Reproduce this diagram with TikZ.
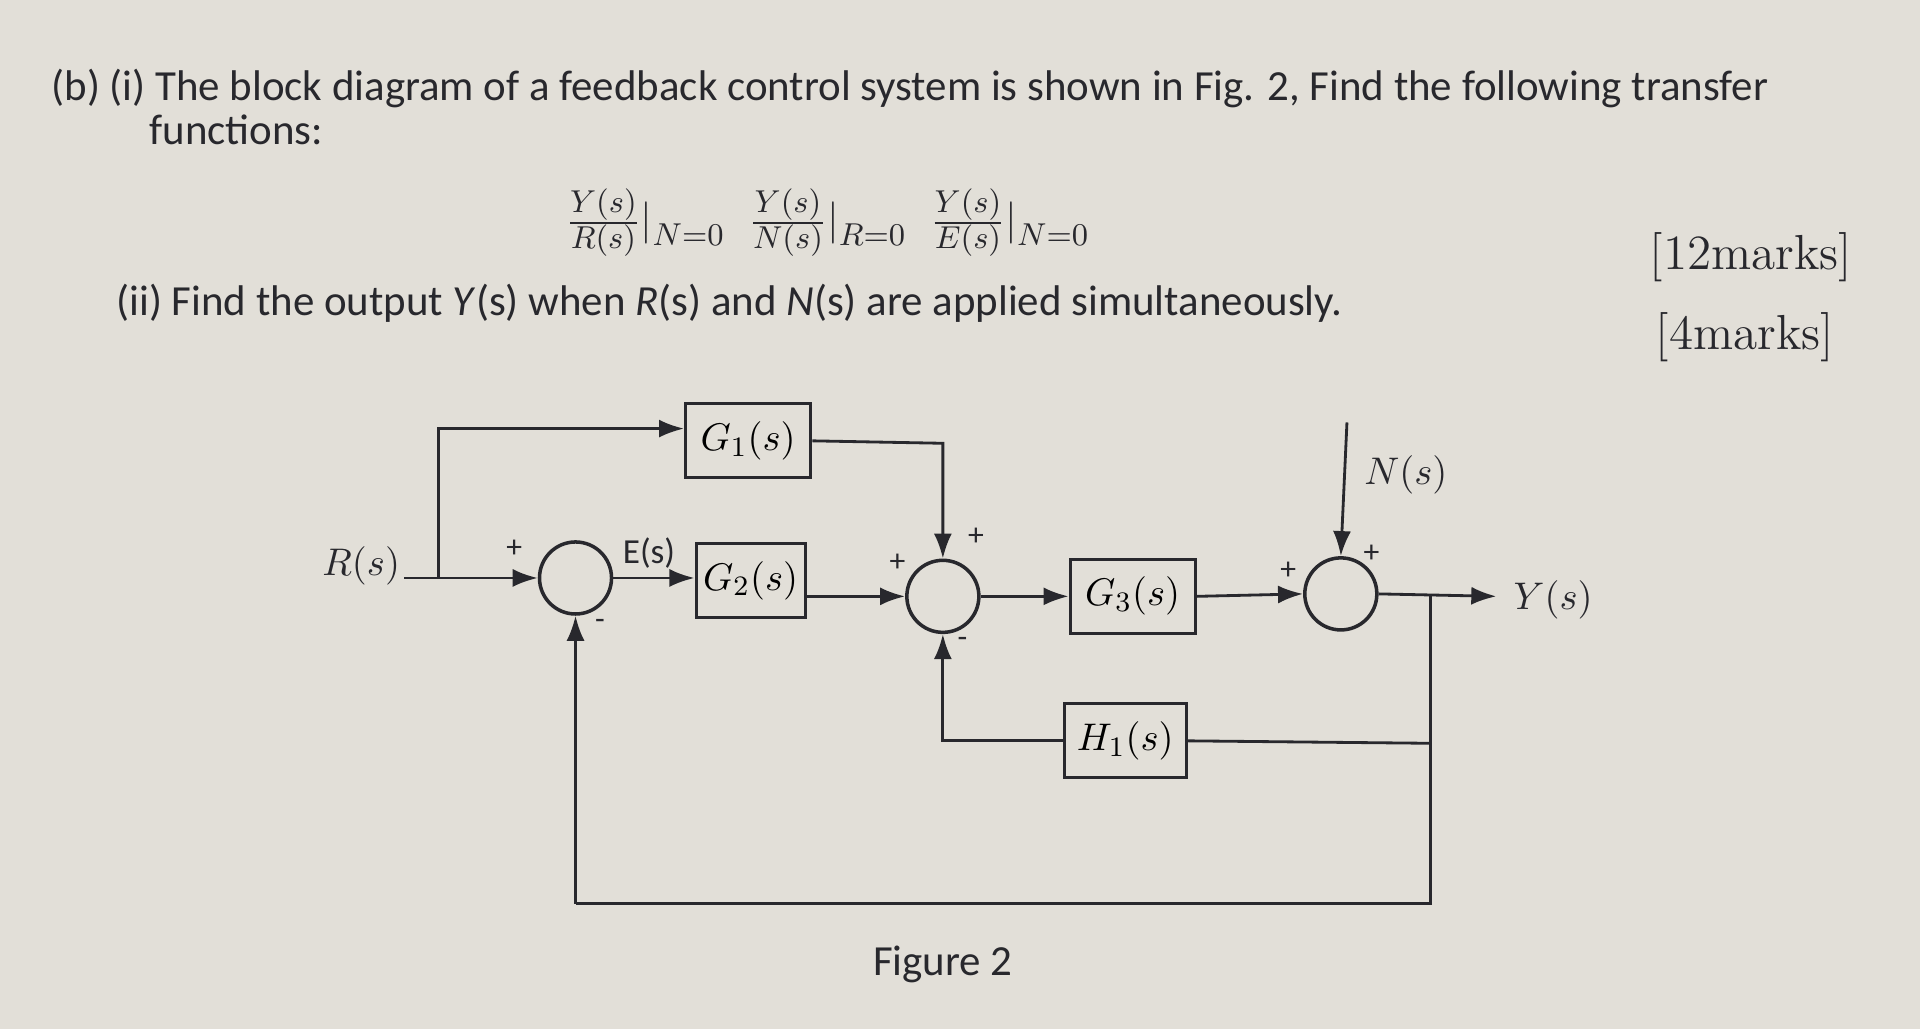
\documentclass[tikz,border=0pt]{standalone}
\usepackage{fontspec}
\setmainfont{Carlito}
\usetikzlibrary{arrows.meta}
\definecolor{paper}{RGB}{226,223,216}
\definecolor{ink}{RGB}{40,40,45}
\begin{document}
\begin{tikzpicture}[x=0.012245cm,y=-0.012245cm,
  blk/.style={draw=ink,line width=0.9pt,minimum width=#1,minimum height=0.74cm,inner sep=0pt,font=\fontsize{11}{13}\selectfont},
  sum/.style={draw=ink,circle,line width=1pt,minimum size=0.72cm,inner sep=0pt},
  ln/.style={draw=ink,line width=0.8pt},
  ar/.style={ln,-{Latex[length=2.5mm,width=1.8mm]}},
  sg/.style={font=\fontsize{9}{10}\selectfont,text=ink},
  txt/.style={font=\fontsize{12.2}{14}\selectfont,text=ink,anchor=west},
  lab/.style={font=\fontsize{11}{13}\selectfont,text=ink},
  mk/.style={font=\fontfamily{lmr}\fontsize{14}{16}\selectfont,text=ink}]
\fill[paper] (0,0) rectangle (1568,840);
\useasboundingbox (0,0) rectangle (1568,840);
% texts
\node[txt] (t1) at (32,72) {(b) (i) The block diagram of a feedback control system is shown in Fig. 2, Find the following transfer};
\node[txt] (t2) at (112,106) {functions:};
\node[mk,anchor=west,font=\fontfamily{lmr}\fontsize{13}{16}\selectfont] (fr) at (452,182) {$\frac{Y(s)}{R(s)}\big|_{N=0}\;\;\frac{Y(s)}{N(s)}\big|_{R=0}\;\;\frac{Y(s)}{E(s)}\big|_{N=0}$};
\node[mk] (m12) at (1430,210) {[12marks]};
\node[txt] (t3) at (85,248) {(ii) Find the output \textit{Y}(s) when \textit{R}(s) and \textit{N}(s) are applied simultaneously.};
\node[mk] (m4) at (1425,275) {[4marks]};
\node[txt,anchor=center] (fig) at (770,788) {Figure 2};
% blocks
\node[blk=1.25cm] (G1) at (611,360) {$G_1(s)$};
\node[blk=1.09cm] (G2) at (613,474) {$G_2(s)$};
\node[blk=1.25cm] (G3) at (925,487) {$G_3(s)$};
\node[blk=1.22cm] (H1) at (919,605) {$H_1(s)$};
\node[sum] (S1) at (470,472) {};
\node[sum] (S2) at (770,487) {};
\node[sum] (S3) at (1095,485) {};
% labels
\node[lab] (R) at (295,462) {$R(s)$};
\node[lab,anchor=west] (Y) at (1226,490) {$Y(s)$};
\node[lab,anchor=west] (N) at (1104,388) {$N(s)$};
\node[font=\fontsize{10}{12}\selectfont,text=ink] (E) at (530,452) {E(s)};
\coordinate (Rr) at (330,472);
\coordinate (Nt) at (1100,345);
\coordinate (b1) at (358,472);
\coordinate (b1u) at (358,350);
\coordinate (g1c) at (770,362);
\coordinate (yo) at (1168,487);
\coordinate (yb) at (1168,738);
\coordinate (s1b) at (470,738);
\coordinate (yh) at (1168,607);
\coordinate (hl) at (770,605);
\coordinate (yend) at (1222,487);
% connectors
\draw[ln] (Rr) -- (b1);
\draw[ar] (b1) -- (S1.west);
\draw[ar] (b1) -- (b1u) -- (G1.west |- b1u);
\draw[ar] (G1.east) -- (g1c) -- (S2.north);
\draw[ar] (S1.east) -- (G2.west |- S1.east);
\draw[ar] (G2.east |- S2.west) -- (S2.west);
\draw[ar] (S2.east) -- (G3.west);
\draw[ar] (G3.east) -- (S3.west);
\draw[ar] (S3.east) -- (yend);
\draw[ar] (Nt) -- (S3.north);
\draw[ln] (yo) -- (yb) -- (s1b);
\draw[ar] (s1b) -- (S1.south);
\draw[ln] (yh) -- (H1.east);
\draw[ar] (H1.west) -- (hl) -- (S2.south);
% signs
\node[sg] at (420,448) {+};
\node[sg] at (490,510) {-};
\node[sg] at (733,460) {+};
\node[sg] at (797,438) {+};
\node[sg] at (786,525) {-};
\node[sg] at (1052,466) {+};
\node[sg] at (1120,452) {+};
\end{tikzpicture}
\end{document}
